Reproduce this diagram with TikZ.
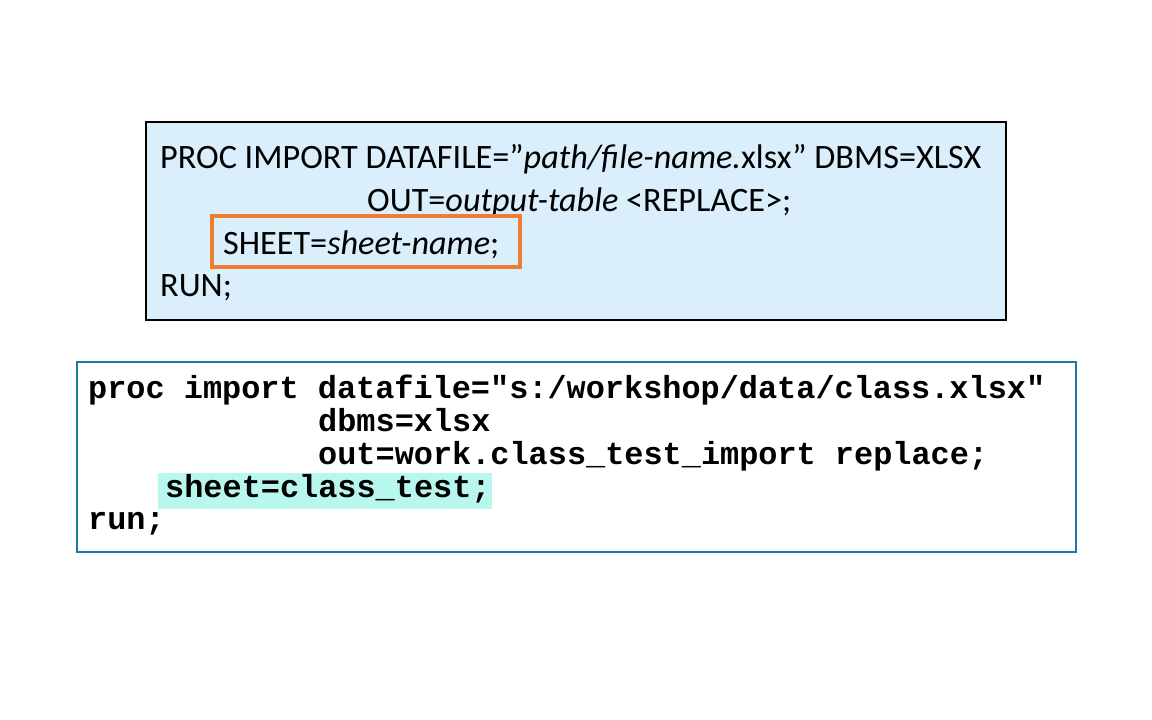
\documentclass[tikz,border=0pt]{standalone}
\usepackage{fontspec}
\setmainfont{Carlito}[Ligatures=ResetAll]
\setmonofont{Liberation Mono}
\definecolor{topfill}{HTML}{DAEEFB}
\definecolor{orng}{HTML}{ED7D31}
\definecolor{codeframe}{HTML}{1F78A8}
\definecolor{hilite}{HTML}{B8F7EE}
\tikzset{
 sy/.style={anchor=base west,inner sep=0pt,font=\fontsize{34.2}{38}\selectfont},
 cd/.style={anchor=base west,inner sep=0pt,font=\fontsize{31.9}{36}\ttfamily\bfseries}
}
\begin{document}
\begin{tikzpicture}[x=1pt,y=-1pt]
\useasboundingbox (0,0) rectangle (1152,720);
\fill[white] (0,0) rectangle (1152,720);
\draw[fill=topfill,line width=1.5pt] (146,122) rectangle (1006,320);
\node[sy] (l1) at (160,168) {PROC IMPORT DATAFILE="\textit{path/file-name.}xlsx" DBMS=XLSX};
\node[sy] (l2) at (367,211) {OUT=\textit{output-table} <REPLACE>;};
\node[sy] (l3) at (223,254) {SHEET=\textit{sheet-name};};
\node[sy] (l4) at (160,296) {RUN;};
\draw[orng,line width=3.5pt] (212,216) rectangle (520,267);
\draw[codeframe,line width=2.5pt] (77,362) rectangle (1076,552);
\fill[hilite] (158,473) rectangle (492,509);
\node[cd] (c1) at (88,398) {proc import datafile="s:/workshop/data/class.xlsx"};
\node[cd] (c2) at (318,431) {dbms=xlsx};
\node[cd] (c3) at (318,464) {out=work.class\_test\_import replace;};
\node[cd] (c4) at (165,497) {sheet=class\_test;};
\node[cd] (c5) at (88,529) {run;};
\end{tikzpicture}
\end{document}
